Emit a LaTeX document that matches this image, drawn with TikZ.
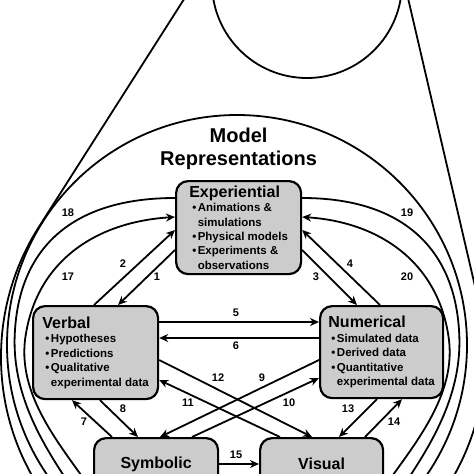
\documentclass[tikz,border=0pt]{standalone}
\usepackage{fontspec}
\setmainfont{Liberation Sans}
\usetikzlibrary{arrows.meta,positioning,calc}

\newcommand{\bitem}[1]{\hspace*{3pt}\textbullet\hspace{1.5pt}#1}
\newcommand{\bcont}[1]{\hspace*{3pt}\phantom{\textbullet}\hspace{1.5pt}#1}
\newcommand{\boxtitle}{\fontsize{16}{19}\selectfont}

\begin{document}
\begin{tikzpicture}[x=1pt, y=-1pt,
    repbox/.style={rectangle, rounded corners=12pt, draw=black, line width=2.2pt, fill=black!20, anchor=north west, align=left, inner sep=0pt, font=\fontsize{11.5}{14.4}\selectfont\bfseries},
    bigbox/.style={repbox, font=\boxtitle\bfseries},
    heading/.style={align=center, inner sep=0pt, font=\fontsize{20}{23}\selectfont\bfseries},
    numlabel/.style={inner sep=0pt, font=\fontsize{11}{13}\selectfont\bfseries},
    outline/.style={line width=1.8pt},
    arrow/.style={line width=1.8pt, -{Stealth[length=9pt,width=8pt]}}
]
    \useasboundingbox (0,0) rectangle (474,474);
    \clip (0,0) rectangle (474,474);

    % magnifier outline
    \coordinate (tl1) at (226.9,-68.1);
    \coordinate (tl2) at (38.9,226.9);
    \coordinate (tr1) at (399.5,-38.5);
    \coordinate (tr2) at (478.7,302.2);
    \draw[outline] (307,-17) circle[radius=95];
    \draw[outline] (tl1) -- (tl2);
    \draw[outline] (tr1) -- (tr2);
    \begin{scope}
        \clip (-300,168.9) -- (800,357.2) -- (800,800) -- (-300,800) -- cycle;
        \draw[outline] (243,357) circle[radius=242];
    \end{scope}
    \draw[outline] (237,345) circle[radius=230];

    \node[repbox, minimum width=125pt, minimum height=93pt] (exp) at (175,180) {{\boxtitle Experiential}\\\bitem{Animations \&}\\\bcont{simulations}\\\bitem{Physical models}\\\bitem{Experiments \&}\\\bcont{observations}};
    \node[repbox, minimum width=125pt, minimum height=93pt] (verbal) at (32,305) {{\boxtitle Verbal}\\\bitem{Hypotheses}\\\bitem{Predictions}\\\bitem{Qualitative}\\\bcont{experimental data}};
    \node[repbox, minimum width=123pt, minimum height=92pt] (numer) at (319,305) {{\boxtitle Numerical}\\\bitem{Simulated data}\\\bitem{Derived data}\\\bitem{Quantitative}\\\bcont{experimental data}};
    \node[bigbox, minimum width=124pt, minimum height=52pt] (symb) at (93,437) {Symbolic};
    \node[bigbox, minimum width=123pt, minimum height=52pt] (visual) at (259,437) {Visual};
    \node[heading, above=10.5pt of exp] (modrep) {Model\\Representations};

    \draw[arrow] ($(exp.north west)+(0,70)$) -- ($(verbal.north west)+(86,0)$);
    \draw[arrow] ($(verbal.north west)+(62,0)$) -- ($(exp.north west)+(0,50)$);
    \draw[arrow] ($(exp.north east)+(0,70)$) -- ($(numer.north west)+(38,0)$);
    \draw[arrow] ($(numer.north west)+(61,0)$) -- ($(exp.north east)+(0,50)$);
    \draw[arrow] ($(verbal.north east)+(0,17)$) -- ($(numer.north west)+(0,17)$);
    \draw[arrow] ($(numer.north west)+(0,33)$) -- ($(verbal.north east)+(0,33)$);
    \draw[arrow] ($(symb.north west)+(19,0)$) -- ($(verbal.south west)+(40,0)$);
    \draw[arrow] ($(verbal.south west)+(68,0)$) -- ($(symb.north west)+(45,0)$);
    \draw[arrow] ($(numer.north west)+(0,55)$) -- ($(symb.north west)+(67,0)$);
    \draw[arrow] ($(symb.north west)+(99,0)$) -- ($(numer.north west)+(0,73)$);
    \draw[arrow] ($(visual.north west)+(21,0)$) -- ($(verbal.north east)+(0,75)$);
    \draw[arrow] ($(verbal.north east)+(0,55)$) -- ($(visual.north west)+(53,0)$);
    \draw[arrow] ($(numer.south west)+(58,0)$) -- ($(visual.north west)+(80,0)$);
    \draw[arrow] ($(visual.north west)+(106,0)$) -- ($(numer.south west)+(83,0)$);
    \draw[arrow] ($(symb.north east)+(0,27)$) -- ($(visual.north west)+(0,27)$);

    \draw[arrow] (visual.south) .. controls (200,540) and (130,530) .. (95,495) .. controls (65,450) and (18,400) .. (25,340) .. controls (35,262) and (95,222) .. ($(exp.north west)+(0,37)$);
    \draw[arrow] ($(exp.north west)+(0,18)$) .. controls (70,198) and (20,250) .. (15,330) .. controls (10,400) and (50,455) .. (80,500) .. controls (110,540) and (300,545) .. (visual.south);
    \draw[arrow] ($(exp.north east)+(0,18)$) .. controls (404,198) and (454,250) .. (459,330) .. controls (464,400) and (424,455) .. (394,500) .. controls (364,540) and (174,545) .. (symb.south);
    \draw[arrow] (symb.south) .. controls (274,540) and (344,530) .. (379,495) .. controls (409,450) and (456,400) .. (449,340) .. controls (439,262) and (379,222) .. ($(exp.north east)+(0,37)$);

    \foreach \n/\px/\py in {1/157/277, 2/123/264, 3/316/277, 4/350/264, 5/236/313, 6/236/346, 7/84/422, 8/123/409, 9/262/378, 10/289/403, 11/188/403, 12/218/378, 13/348/409, 14/394/422, 15/236/455, 17/68/277, 18/68/213, 19/407/213, 20/407/277}
        \node[numlabel] (lbl\n) at (\px,\py) {\n};
\end{tikzpicture}
\end{document}
